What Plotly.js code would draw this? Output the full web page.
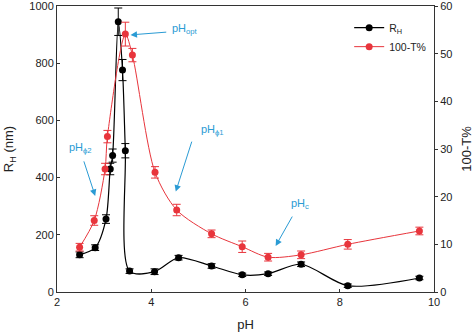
<!DOCTYPE html>
<html><head><meta charset="utf-8">
<script src="https://cdn.plot.ly/plotly-3.0.1.min.js"></script>
<style>html,body{margin:0;padding:0;background:#fff}#c{width:474px;height:336px}</style>
</head><body><div id="c"></div>
<script>
const rhPH  = [2.48, 2.81, 3.04, 3.13, 3.18, 3.30, 3.39, 3.45, 3.54, 4.07, 4.58, 5.28, 5.93, 6.48, 7.18, 8.17, 9.69];
const rhVal = [130, 155, 255, 430, 477, 945, 776, 494, 73, 71, 120, 91, 60, 64, 97, 22, 49];
const rhErr = [10, 10, 15, 20, 23, 48, 37, 25, 8, 10, 8, 8, 6, 6, 8, 6, 6];
const tPH   = [2.48, 2.79, 3.02, 3.07, 3.45, 3.60, 4.08, 4.54, 5.28, 5.93, 6.48, 7.18, 8.17, 9.69];
const tVal  = [9.4, 15.0, 25.8, 32.6, 54.1, 49.7, 25.1, 17.2, 12.2, 9.5, 7.3, 7.8, 10.0, 12.8];
const tErr  = [0.8, 1.0, 1.2, 1.3, 2.5, 1.4, 1.2, 1.2, 0.8, 1.2, 0.8, 0.8, 1.0, 0.8];

const blue = '#2a9bd4';
const red = '#e8353c';
const data = [
  {x: rhPH, y: rhVal, name: 'R<sub>H</sub>', type: 'scatter', mode: 'lines+markers',
   line: {color: '#000', width: 1.2, shape: 'spline', smoothing: 0.8},
   marker: {color: '#000', size: 7},
   error_y: {type: 'data', array: rhErr, visible: true, color: '#000', thickness: 1, width: 4}},
  {x: tPH, y: tVal, name: '100-T%', type: 'scatter', mode: 'lines+markers', yaxis: 'y2',
   line: {color: red, width: 1, shape: 'spline', smoothing: 0.8},
   marker: {color: red, size: 7},
   error_y: {type: 'data', array: tErr, visible: true, color: red, thickness: 1, width: 4}}
];

function arrow(hx, hy, tx, ty) {
  return {x: hx, y: hy, ax: tx, ay: ty, xref: 'x', yref: 'y', axref: 'x', ayref: 'y',
    text: '', showarrow: true, arrowhead: 2, arrowsize: 1.3, arrowwidth: 1, arrowcolor: blue};
}
function label(x, y, t) {
  return {x: x, y: y, xref: 'x', yref: 'y', text: t, showarrow: false,
    font: {family: 'Liberation Sans, Arial, sans-serif', size: 11, color: blue}};
}

const layout = {
  width: 474, height: 336,
  margin: {l: 57, r: 40, t: 6, b: 44},
  paper_bgcolor: '#fff', plot_bgcolor: '#fff',
  font: {family: 'Liberation Sans, Arial, sans-serif', size: 11, color: '#222'},
  showlegend: true,
  legend: {x: 0.775, y: 0.975, xanchor: 'left', yanchor: 'top', bgcolor: 'rgba(0,0,0,0)',
           font: {size: 10.5}, tracegroupgap: 0, itemwidth: 30},
  xaxis: {range: [2, 10], tickvals: [2, 4, 6, 8, 10], showgrid: false, zeroline: false,
          showline: true, linecolor: '#333', linewidth: 1, mirror: true,
          ticks: 'inside', ticklen: 3, tickcolor: '#333', ticklabeloverflow: 'allow',
          title: {text: 'pH', font: {size: 13}, standoff: 12}},
  yaxis: {range: [0, 1000], tickvals: [0, 200, 400, 600, 800, 1000], showgrid: false, zeroline: false,
          showline: true, linecolor: '#333', linewidth: 1, ticklabeloverflow: 'allow',
          ticks: 'inside', ticklen: 3, tickcolor: '#333',
          title: {text: 'R<sub>H</sub> (nm)', font: {size: 13}, standoff: 12}},
  yaxis2: {range: [0, 60], tickvals: [0, 10, 20, 30, 40, 50, 60], overlaying: 'y', side: 'right',
           showgrid: false, zeroline: false, showline: true, linecolor: '#333', linewidth: 1,
           ticks: 'outside', ticklen: 3, tickcolor: '#333', ticklabeloverflow: 'allow',
           title: {text: '100-T%', font: {size: 13}, standoff: 12}},
  annotations: [
    arrow(3.56, 899, 4.35, 909), label(4.72, 920, 'pH<sub>opt</sub>'),
    arrow(2.81, 336, 2.56, 462), label(2.50, 505, 'pH<sub>ϕ2</sub>'),
    arrow(4.52, 351, 4.87, 531), label(5.29, 565, 'pH<sub>ϕ1</sub>'),
    arrow(6.64, 161, 7.01, 269), label(7.16, 306, 'pH<sub>c</sub>')
  ]
};
Plotly.newPlot('c', data, layout, {displayModeBar: false, staticPlot: true});
</script></body></html>
